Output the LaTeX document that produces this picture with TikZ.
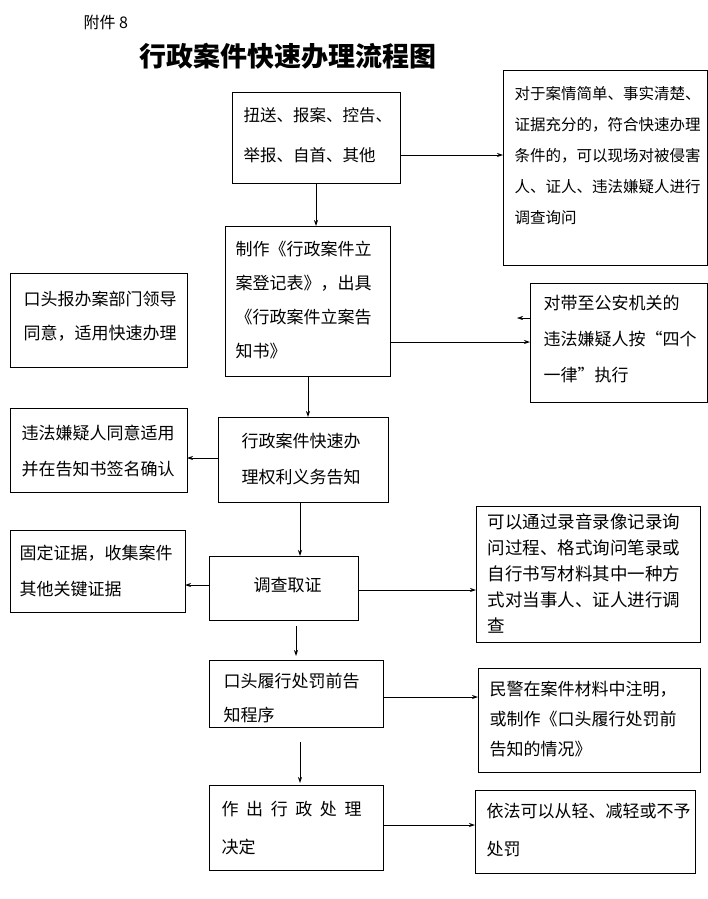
\documentclass[tikz,border=0pt]{standalone}
\usepackage{fontspec}
\newfontfamily\cjk{Noto Sans CJK SC}
\usetikzlibrary{arrows.meta}
\begin{document}
\begin{tikzpicture}[x=1pt,y=-1pt,
 bx/.style={draw,line width=0.9pt,inner sep=0pt},
 tx/.style={anchor=north west,align=left,font=\cjk\fontsize{16}{30}\selectfont},
 ar/.style={-{Stealth[length=6pt,width=4pt]},line width=0.8pt}]
\fill[white] (0,0) rectangle (707,899);
\node[anchor=west,font=\cjk\fontsize{16}{18}\selectfont] (hdr) at (80,22) {附件 8};
\node[font=\cjk\bfseries\fontsize{27}{30}\selectfont] (title) at (288,56) {行政案件快速办理流程图};
% boxes
\draw[bx] (232,92) rectangle (400,183);
\node[tx,font=\cjk\fontsize{16.5}{40}\selectfont] (A) at (240,104) {扭送、报案、控告、\\举报、自首、其他};
\draw[bx] (503,70) rectangle (707,265);
\node[tx,font=\cjk\fontsize{15.5}{31}\selectfont] (R1) at (511,83) {对于案情简单、事实清楚、\\证据充分的，符合快速办理\\条件的，可以现场对被侵害\\人、证人、违法嫌疑人进行\\调查询问};
\draw[bx] (225,226) rectangle (390,376);
\node[tx,font=\cjk\fontsize{17}{34}\selectfont] (B) at (232,238) {制作《行政案件立\\案登记表》，出具\\《行政案件立案告\\知书》};
\draw[bx] (10,273) rectangle (187,367);
\node[tx,font=\cjk\fontsize{17}{34}\selectfont] (L1) at (20,288) {口头报办案部门领导\\同意，适用快速办理};
\draw[bx] (530,283) rectangle (707,402);
\node[tx,font=\cjk\fontsize{17}{36}\selectfont] (R2) at (540,292) {对带至公安机关的\\违法嫌疑人按“四个\\一律”执行};
\draw[bx] (218,417) rectangle (388,502);
\node[tx,font=\cjk\fontsize{17}{36}\selectfont] (C) at (238,430) {行政案件快速办\\理权利义务告知};
\draw[bx] (10,408) rectangle (187,492);
\node[tx,font=\cjk\fontsize{17}{36}\selectfont] (L2) at (18,422) {违法嫌疑人同意适用\\并在告知书签名确认};
\draw[bx] (10,530) rectangle (185,612);
\node[tx,font=\cjk\fontsize{17}{36}\selectfont] (L3) at (16,542) {固定证据，收集案件\\其他关键证据};
\draw[bx] (209,556) rectangle (358,620);
\node[tx,font=\cjk\fontsize{17}{30}\selectfont] (D) at (250,574) {调查取证};
\draw[bx] (476,506) rectangle (700,642);
\node[tx,font=\cjk\fontsize{17.5}{26}\selectfont] (R3) at (484,510) {可以通过录音录像记录询\\问过程、格式询问笔录或\\自行书写材料其中一种方\\式对当事人、证人进行调\\查};
\draw[bx] (209,660) rectangle (383,727);
\node[tx,font=\cjk\fontsize{17}{34}\selectfont] (E) at (220,670) {口头履行处罚前告\\知程序};
\draw[bx] (478,668) rectangle (700,772);
\node[tx,font=\cjk\fontsize{17}{30}\selectfont] (R4) at (486,678) {民警在案件材料中注明，\\或制作《口头履行处罚前\\告知的情况》};
\draw[bx] (209,785) rectangle (383,870);
\node[tx,font=\cjk\fontsize{17}{38}\selectfont] (F) at (218,798) {作\ \ 出\ \ 行\ \ 政\ \ 处\ \ 理\\决定};
\draw[bx] (475,790) rectangle (695,873);
\node[tx,font=\cjk\fontsize{17}{38}\selectfont] (R5) at (483,800) {依法可以从轻、减轻或不予\\处罚};
% connectors
\coordinate (a1) at (316,183); \coordinate (b1) at (316,226);
\draw[ar] (a1) -- (b1);
\coordinate (a3) at (400,155); \coordinate (r1) at (503,155);
\draw[ar] (a3) -- (r1);
\coordinate (b2) at (390,342); \coordinate (r2) at (530,342);
\draw[ar] (b2) -- (r2);
\coordinate (r2s) at (530,318); \coordinate (r2t) at (517,318);
\draw[ar,line width=0.5pt] (r2s) -- (r2t);
\coordinate (b3) at (308,376); \coordinate (c1) at (308,417);
\draw[ar] (b3) -- (c1);
\coordinate (c2) at (218,458); \coordinate (l2) at (187,458);
\draw[ar] (c2) -- (l2);
\coordinate (c3) at (300,502); \coordinate (d1) at (300,556);
\draw[ar] (c3) -- (d1);
\coordinate (d2) at (209,585); \coordinate (l3) at (185,585);
\draw[ar] (d2) -- (l3);
\coordinate (d3) at (358,590); \coordinate (r3) at (476,590);
\draw[ar] (d3) -- (r3);
\coordinate (d4) at (296,626); \coordinate (e1) at (296,656);
\draw[ar] (d4) -- (e1);
\coordinate (e2) at (383,697); \coordinate (r4) at (478,697);
\draw[ar] (e2) -- (r4);
\coordinate (e3) at (300,742); \coordinate (f1) at (300,783);
\draw[ar] (e3) -- (f1);
\coordinate (f2) at (383,825); \coordinate (r5) at (475,825);
\draw[ar] (f2) -- (r5);
\end{tikzpicture}
\end{document}
